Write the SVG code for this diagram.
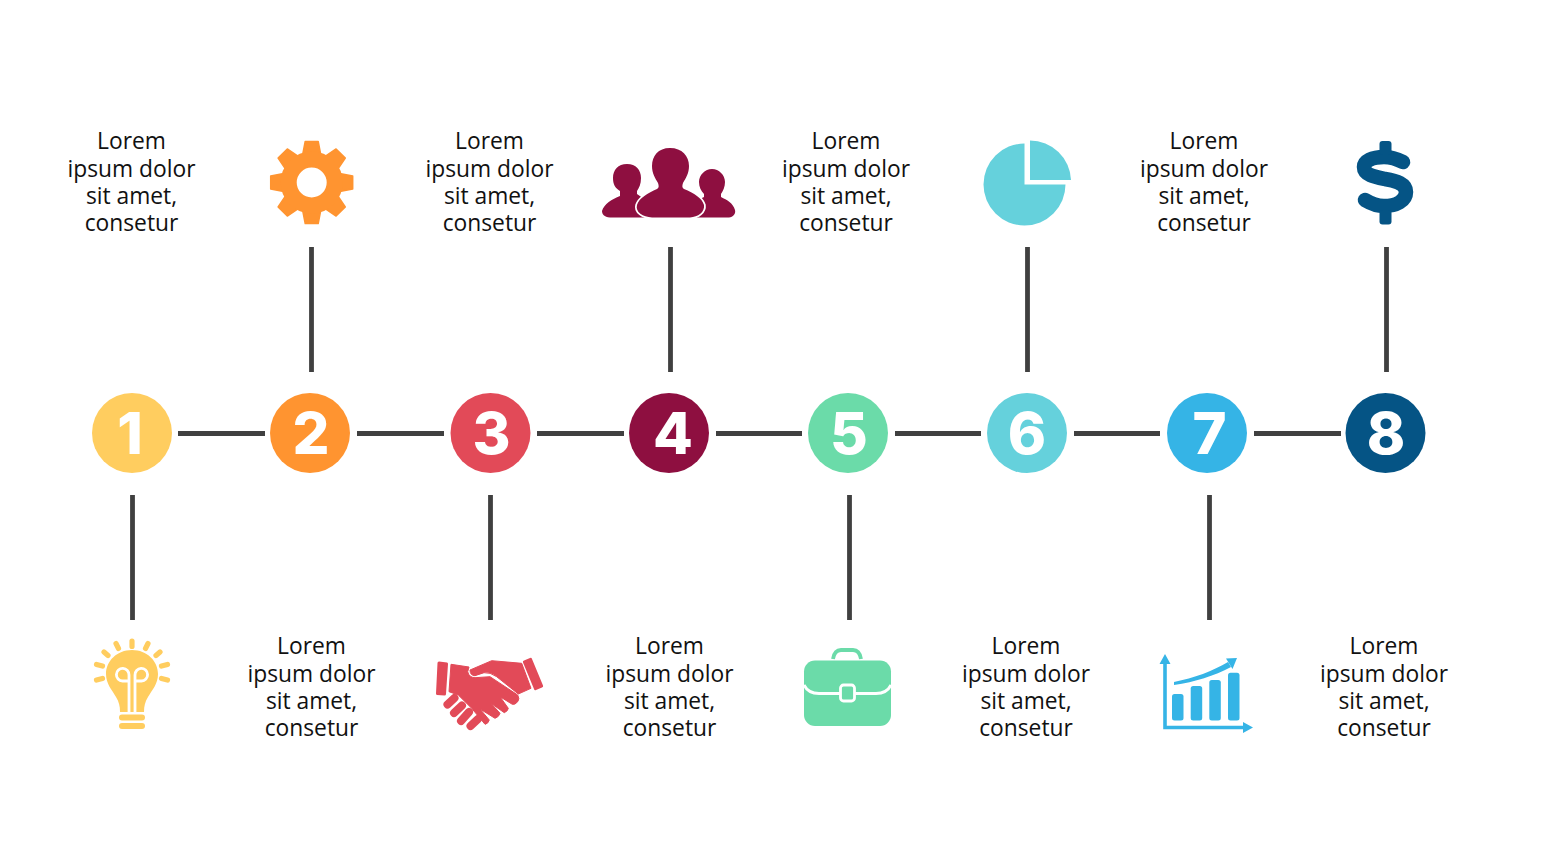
<svg xmlns="http://www.w3.org/2000/svg" xmlns:xlink="http://www.w3.org/1999/xlink" width="1544" height="867" viewBox="0 0 1544 867">
<style>
.t{font-family:"Open Sans","Liberation Sans",sans-serif;font-size:22.8px;fill:#111;text-anchor:middle}
.n{font-family:Inter,"Liberation Sans",sans-serif;font-size:58px;font-weight:800;fill:#fff;text-anchor:middle}
.c{stroke:#404040;stroke-width:4.8;fill:none}
</style>
<defs>
<g id="tooth"><path d="M-9 -28L-6.500 -41H6.500L9 -28Z" fill="#FF9430" stroke="#FF9430" stroke-width="1.500" stroke-linejoin="round"/></g>
<g id="lbl"><text class="t" y="0">Lorem</text><text class="t" y="27.800">ipsum dolor</text><text class="t" y="55">sit amet,</text><text class="t" y="82.400">consetur</text></g>
</defs>
<rect width="1544" height="867" fill="#fff"/>
<g id="connectors">
<path class="c" d="M178 433.500H265M357 433.500H444M537 433.500H624M716 433.500H802M895 433.500H981M1074 433.500H1160M1254 433.500H1341"/>
<path class="c" d="M311.500 247V372M670.500 247V372M1027.500 247V372M1386.500 247V372M132.500 495V620M490.500 495V620M849.500 495V620M1209.500 495V620"/>
</g>
<g id="node1"><circle cx="132" cy="433" r="40" fill="#FFCD5F"/><text class="n" x="130" y="454">1</text>
<g id="icon-bulb"><path d="M132 650C117 650 106 661 106 674C106 684 112 690 116 697C119 702 120 706 120 712H144C144 706 145 702 148 697C152 690 158 684 158 674C158 661 147 650 132 650Z" fill="#FFCD5F"/>
<rect x="119" y="714.500" width="26" height="6" rx="3" fill="#FFCD5F"/><rect x="119" y="723" width="26" height="6" rx="3" fill="#FFCD5F"/>
<path d="M129 712V681H122.500A6.300 6.300 0 1 1 129 675V681M135 712V681H141.500A6.300 6.300 0 1 0 135 675V681" fill="none" stroke="#fff" stroke-width="2.800"/>
<path d="M132 641V646.500M116 643.500L118.500 648.500M148 643.500L145.500 648.500M104 652L108 655.500M160 652L156 655.500M96.500 664.500L102.500 666M167.500 664.500L161.500 666M96.500 680L102.500 678.500M167.500 680L161.500 678.500" stroke="#FFCD5F" stroke-width="5.200" stroke-linecap="round"/></g></g>
<g id="node2"><circle cx="310" cy="433" r="40" fill="#FF9430"/><text class="n" x="311" y="454">2</text>
<g id="icon-gear" transform="translate(311.700 182.500)"><use xlink:href="#tooth"/><use xlink:href="#tooth" transform="rotate(45)"/><use xlink:href="#tooth" transform="rotate(90)"/><use xlink:href="#tooth" transform="rotate(135)"/><use xlink:href="#tooth" transform="rotate(180)"/><use xlink:href="#tooth" transform="rotate(225)"/><use xlink:href="#tooth" transform="rotate(270)"/><use xlink:href="#tooth" transform="rotate(315)"/><circle r="23" fill="none" stroke="#FF9430" stroke-width="16"/></g></g>
<g id="node3"><circle cx="490.500" cy="433" r="40" fill="#E24A58"/><text class="n" x="491.500" y="454">3</text>
<g id="icon-hands" fill="#E24A58">
<path d="M439 661.500L447 662.500A1.500 1.500 0 0 1 448 664L446 694A1.500 1.500 0 0 1 444.500 695.500L437 695A1.500 1.500 0 0 1 436 693.500L437.500 663A1.500 1.500 0 0 1 439 661.500Z"/>
<path d="M524 660.500L530 658A1.500 1.500 0 0 1 532 659L543 685.500A1.500 1.500 0 0 1 542 687.500L536 690A1.500 1.500 0 0 1 534 689L523 662.500A1.500 1.500 0 0 1 524 660.500Z"/>
<path d="M470 670L491.700 660.700L521.700 663.300L531 688.300L518.300 694L496.700 676.700Q490 672 484 672.700L475 675.700Q470 675.500 470 670Z" stroke="#E24A58" stroke-linejoin="round"/>
<path d="M451 664.300L469 667L467.700 671.700Q469 677.500 475 677.700L490 676.700L517.700 695Q520 699 517.700 701.700Q515 705 512.300 704.300L500 696.700L508.300 708.300Q508 711 504.300 712.700L491 703.300L500 713.300Q499 717 495 718.300L480 709L489.300 720Q488 724 485 724.300L480 718.300L471.700 708.300L458.300 695L449 691.700Z" stroke="#E24A58" stroke-linejoin="round"/>
<path d="M447.500 704.500L454.500 698M454 713L462 705.500M461 721L469 712M470.500 726L478 719" stroke="#E24A58" stroke-width="8" stroke-linecap="round" fill="none"/>
</g></g>
<g id="node4"><circle cx="669" cy="433" r="40" fill="#8E0F40"/><text class="n" x="673" y="454">4</text>
<g id="icon-people" fill="#8E0F40">
<path d="M627 164C636 164 641 170 641 178C641 184 639 188 637 191V194C642 197 646 201 650 205L650 217.500H610C604 217 602 214 602 211C604 204 612 199 620 196V191C615 188 613 184 613 178C613 170 618 164 627 164Z"/>
<path d="M712 169C719 169 725 175 725 182C725 187 723 191 721 194V197C727 200 733 203 735 210C736 214 733 217 729 217.500H690L690 205C695 201 700 199 704 197V194C701 191 699 187 699 182C699 175 705 169 712 169Z"/>
<path d="M670 148C682 148 689 156 689 166C689 173 686 178 683 183C682 186 682 188 684 189C694 193 702 198 704 205C705 212 698 217 690 217.500H652C643 217 635 212 637 205C639 198 648 193 657 189C659 188 659 186 658 183C655 178 652 173 652 166C652 156 658 148 670 148Z" stroke="#fff" stroke-width="3.500" paint-order="stroke"/>
</g></g>
<g id="node5"><circle cx="848" cy="433" r="40" fill="#6BDBA9"/><text class="n" x="849" y="454">5</text>
<g id="icon-case"><path d="M833 659C834 653 836 650 841 650H853C858 650 860 653 861 659" fill="none" stroke="#6BDBA9" stroke-width="3.800"/>
<rect x="804" y="660.500" width="87" height="65.500" rx="11" fill="#6BDBA9"/>
<path d="M804 685C807 691 812 693.500 819 693.500H876C883 693.500 888 691 891 685" fill="none" stroke="#fff" stroke-width="2.800"/>
<rect x="840.500" y="685" width="14" height="16" rx="3" fill="#6BDBA9" stroke="#fff" stroke-width="2.800"/></g></g>
<g id="node6"><circle cx="1027" cy="433" r="40" fill="#65D1DC"/><text class="n" x="1027" y="454">6</text>
<g id="icon-pie" fill="#65D1DC"><path d="M1024.500 184.500H1065.500A41 41 0 1 1 1024.500 143.500Z"/><path d="M1030 140.500A41 41 0 0 1 1071 180H1030Z"/></g></g>
<g id="node7"><circle cx="1207" cy="433" r="40" fill="#35B4E6"/><text class="n" x="1209.500" y="454">7</text>
<g id="icon-chart" fill="#35B4E6"><path d="M1165 661V727.500H1245" fill="none" stroke="#35B4E6" stroke-width="3.600"/>
<path d="M1165 654L1170.500 664H1159.500ZM1253 727.500L1243 722V733Z"/>
<rect x="1172" y="694" width="11.500" height="26.500" rx="2.500"/><rect x="1190.700" y="686" width="11.500" height="34.500" rx="2.500"/><rect x="1209.300" y="680" width="11.500" height="40.500" rx="2.500"/><rect x="1228" y="672.700" width="11.500" height="47.800" rx="2.500"/>
<path d="M1174 682C1194 678 1213 671 1228 662L1231 667C1214 676 1195 682 1174 685Z"/>
<path d="M1237 658L1226 658.500L1232.500 669Z"/></g></g>
<g id="node8"><circle cx="1385.500" cy="433" r="40" fill="#055485"/><text class="n" x="1386" y="454">8</text>
<g id="icon-dollar"><path d="M1403 162C1397 159 1392 157 1384 157C1372 157 1364 161 1364 167C1364 175 1375 177 1385 179C1397 181 1406 184 1406 192C1406 201 1396 206 1384 206C1376 206 1370 203 1365 200" fill="none" stroke="#055485" stroke-width="14.500" stroke-linecap="round"/>
<rect x="1379.500" y="141" width="12" height="14" rx="3" fill="#055485"/><rect x="1379.500" y="210" width="12" height="14.500" rx="3" fill="#055485"/></g></g>
<g id="labels">
<use xlink:href="#lbl" x="131.500" y="149"/><use xlink:href="#lbl" x="489.500" y="149"/><use xlink:href="#lbl" x="846" y="149"/><use xlink:href="#lbl" x="1204" y="149"/>
<use xlink:href="#lbl" x="311.500" y="654"/><use xlink:href="#lbl" x="669.500" y="654"/><use xlink:href="#lbl" x="1026" y="654"/><use xlink:href="#lbl" x="1384" y="654"/>
</g>
</svg>
